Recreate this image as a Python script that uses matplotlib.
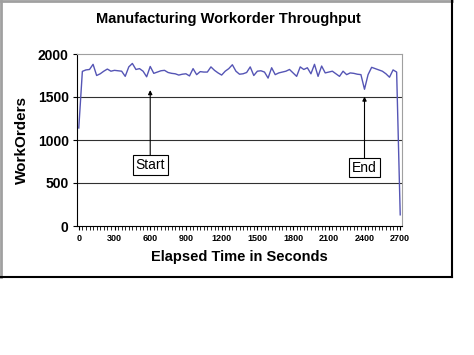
import numpy as np
import matplotlib.pyplot as plt
from matplotlib.lines import Line2D

plt.rcParams['font.family'] = ['Liberation Sans', 'DejaVu Sans']

# throughput sampled every 30 s
seconds = list(range(0, 2701, 30))
workorders = [
    1140, 1798, 1815, 1820, 1880, 1750, 1770, 1800, 1825, 1800,
    1810, 1805, 1800, 1740, 1850, 1890, 1820, 1830, 1800, 1735,
    1855, 1775, 1790, 1805, 1810, 1785, 1775, 1770, 1755, 1765,
    1770, 1745, 1830, 1760, 1795, 1790, 1790, 1850, 1810, 1780,
    1755, 1800, 1830, 1875, 1800, 1765, 1770, 1785, 1850, 1750,
    1800, 1805, 1790, 1720, 1840, 1760, 1780, 1790, 1800, 1820,
    1780, 1740, 1850, 1820, 1840, 1770, 1880, 1740, 1860, 1780,
    1790, 1800, 1770, 1740, 1800, 1760, 1780, 1775, 1765, 1760,
    1590, 1760, 1845, 1830, 1815, 1800, 1770, 1730, 1815, 1790,
    130,
]
x_ticks = list(range(0, 2701, 300))
y_ticks = [0, 500, 1000, 1500, 2000]

# annotations: (label, x, arrow tip value, box value)
notes = [("Start", 600, 1580, 710), ("End", 2400, 1505, 680)]

fig = plt.figure(figsize=(4.74, 3.55), dpi=100)
ax = fig.add_axes([77 / 474, 1 - 226 / 355, 325 / 474, 172 / 355])

ax.plot(seconds, workorders, color="#5555b5", lw=1.0)

ax.set_xlim(-15, 2715)
ax.set_ylim(0, 2000)
ax.set_xticks(x_ticks)
ax.set_xticks(seconds, minor=True)
ax.set_yticks(y_ticks)
ax.tick_params(axis="x", which="major", length=3, labelsize=6.5, pad=3, direction="out")
ax.tick_params(axis="x", which="minor", length=3, direction="out")
ax.tick_params(axis="y", length=3, labelsize=10, pad=3, direction="out")
for lbl in ax.get_xticklabels() + ax.get_yticklabels():
    lbl.set_fontweight("bold")

for v in y_ticks[1:-1]:
    ax.axhline(v, color="#303030", lw=0.8, zorder=0)
ax.spines["top"].set_color("#a0a0a0")
ax.spines["right"].set_color("#a0a0a0")
ax.spines["left"].set_linewidth(0.8)
ax.spines["bottom"].set_linewidth(0.8)

for text, xv, tip, boxv in notes:
    ax.annotate("", xy=(xv, tip), xytext=(xv, boxv + 90),
                arrowprops=dict(arrowstyle="-|>", color="black", lw=0.8,
                                mutation_scale=6, shrinkA=0, shrinkB=0))
    ax.text(xv, boxv, text, ha="center", va="center", fontsize=10,
            bbox=dict(boxstyle="square,pad=0.2", fc="white", ec="black", lw=0.8))

ax.set_xlabel("Elapsed Time in Seconds", fontsize=10.5, fontweight="bold", labelpad=5)
ax.set_ylabel("WorkOrders", fontsize=11, fontweight="bold", labelpad=6)
fig.text(228 / 474, 1 - 19 / 355, "Manufacturing Workorder Throughput",
         ha="center", va="center", fontsize=10.5, fontweight="bold")

# chart frame
W, H = 474, 355
fx = lambda p: p / W
fy = lambda p: 1 - p / H
fig.add_artist(Line2D([fx(1), fx(452)], [fy(1), fy(1)], color="#a0a0a0", lw=2))
fig.add_artist(Line2D([fx(1), fx(1)], [fy(1), fy(277)], color="#a0a0a0", lw=2))
fig.add_artist(Line2D([fx(452), fx(452)], [fy(1), fy(277)], color="black", lw=1.5))
fig.add_artist(Line2D([fx(0), fx(452)], [fy(277), fy(277)], color="black", lw=1.5))

fig.savefig("out.png", dpi=100)
